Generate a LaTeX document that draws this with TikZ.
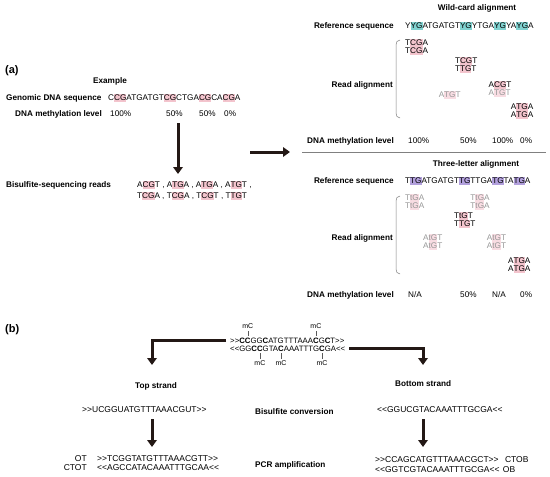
\documentclass[tikz,border=0pt]{standalone}
\usepackage{fontspec}
\setmainfont{Liberation Sans}
\usetikzlibrary{arrows.meta}
\definecolor{pinkhl}{RGB}{243,196,205}
\definecolor{pinklt}{RGB}{248,220,226}
\definecolor{cyanhl}{RGB}{128,210,208}
\definecolor{purphl}{RGB}{178,160,220}
\definecolor{graytx}{RGB}{150,150,150}
\definecolor{arrowc}{RGB}{35,24,21}
\definecolor{graytk}{RGB}{90,90,90}
\newcommand\hlc[2]{{\setlength\fboxsep{0pt}\colorbox{#1}{\rule[-1.5pt]{0pt}{8pt}#2}}}
\newcommand\RR{>\kern0pt>}
\newcommand\LL{<\kern0pt<}
\newcommand\mcU[1]{\setbox0\hbox{\textbf{#1}}\rlap{\hbox to\wd0{\hss\smash{\color{graytk}\rule[7pt]{0.5pt}{5.5pt}}\hss}}\rlap{\hbox to\wd0{\hss\smash{\raisebox{15pt}{\fontsize{7}{7}\selectfont mC}}\hss}}\box0}
\newcommand\mcD[1]{\setbox0\hbox{\textbf{#1}}\rlap{\hbox to\wd0{\hss\smash{\color{graytk}\rule[-7.5pt]{0.5pt}{5.5pt}}\hss}}\rlap{\hbox to\wd0{\hss\smash{\raisebox{-14pt}{\fontsize{7}{7}\selectfont mC}}\hss}}\box0}
\begin{document}
\begin{tikzpicture}[x=1pt,y=-1pt,
  lab/.style={font=\fontsize{8.2}{9}\selectfont\bfseries, inner sep=0pt},
  txt/.style={font=\fontsize{8.2}{9}\selectfont, inner sep=0pt},
  btxt/.style={font=\fontsize{8.5}{9}\selectfont, inner sep=0pt},
  rd/.style={font=\fontsize{8.2}{8}\selectfont, inner sep=0pt, align=left, anchor=north west},
  strand/.style={font=\fontsize{7.8}{8}\selectfont, inner sep=0pt, anchor=base west},
  big/.style={font=\fontsize{11}{12}\selectfont\bfseries, inner sep=0pt},
  bigarrow/.style={draw=arrowc, line width=3pt, -{Triangle[length=7pt,width=9.5pt]}},
  thinline/.style={draw=gray, line width=0.6pt},
  brk/.style={draw=gray, line width=0.5pt},
]
\useasboundingbox (0,0) rectangle (550,477);

% ---------------- (a) left ----------------
\node[big, anchor=base west] (alab) at (5,73) {(a)};
\node[lab, anchor=base] (example) at (110,83) {Example};
\node[lab, anchor=base west] (glab) at (6,100) {Genomic DNA sequence};
\node[txt, anchor=base west] (gseq) at (108,100) {C\hlc{pinkhl}{CG}ATGATGT\hlc{pinkhl}{CG}CTGA\hlc{pinkhl}{CG}CA\hlc{pinkhl}{CG}A};
\node[lab, anchor=base east] (mlab) at (102,116) {DNA methylation level};
\node[txt, anchor=base west] (m1) at (110,116) {100\%};
\node[txt, anchor=base west] (m2) at (166,116) {50\%};
\node[txt, anchor=base west] (m3) at (199,116) {50\%};
\node[txt, anchor=base west] (m4) at (224,116) {0\%};
\coordinate (va) at (178,123);
\coordinate (vb) at (178,174);
\draw[bigarrow] (va) -- (vb);
\node[lab, anchor=base west] (rlab) at (6,187) {Bisulfite-sequencing reads};
\node[font=\fontsize{8.2}{11}\selectfont, inner sep=0pt, align=left, anchor=north west] (reads) at (137,180.5)
 {A\hlc{pinkhl}{CG}T , A\hlc{pinkhl}{TG}A , A\hlc{pinkhl}{TG}A , A\hlc{pinkhl}{TG}T ,\\
  T\hlc{pinkhl}{CG}A , T\hlc{pinkhl}{CG}A , T\hlc{pinkhl}{CG}T , T\hlc{pinkhl}{TG}T};
\coordinate (ha) at (250,152);
\coordinate (hb) at (290,152);
\draw[bigarrow] (ha) -- (hb);
\coordinate (sa) at (302,152);
\coordinate (sb) at (546,152);
\draw[thinline] (sa) -- (sb);

% ---------------- wild-card ----------------
\node[lab, anchor=base] (wtitle) at (477,10) {Wild-card alignment};
\node[lab, anchor=base east] (wreflab) at (394,28) {Reference sequence};
\node[txt, anchor=base west] (wref) at (405,28) {Y\hlc{cyanhl}{YG}ATGATGT\hlc{cyanhl}{YG}YTGA\hlc{cyanhl}{YG}YA\hlc{cyanhl}{YG}A};
\node[rd] (w1) at (405,38.5) {T\hlc{pinkhl}{CG}A\\T\hlc{pinkhl}{CG}A};
\node[rd] (w2) at (405,56.5) {\phantom{YYGATGATG}T\hlc{pinkhl}{CG}T\\\phantom{YYGATGATG}T\hlc{pinkhl}{TG}T};
\node[rd] (w3) at (405,80.5) {\phantom{YYGATGATGTYGYTG}A\hlc{pinkhl}{CG}T\\\phantom{YYGATGATGTYGYTG}\textcolor{graytx}{A\hlc{pinklt}{TG}T}};
\node[rd] (w4) at (405,90.5) {\phantom{YYGATG}\textcolor{graytx}{A\hlc{pinklt}{TG}T}};
\node[rd] (w5) at (405,102.5) {\phantom{YYGATGATGTYGYTGAYGY}A\hlc{pinkhl}{TG}A\\\phantom{YYGATGATGTYGYTGAYGY}A\hlc{pinkhl}{TG}A};
\draw[brk] (400,40) .. controls (397,40.5) and (396,42) .. (396,45) -- (396,113) .. controls (396,116) and (397,117.5) .. (400,118);
\node[lab, anchor=base east] (wral) at (393,87) {Read alignment};
\node[lab, anchor=base east] (wmlab) at (394,143) {DNA methylation level};
\node[txt, anchor=base west] (wm1) at (408,143) {100\%};
\node[txt, anchor=base west] (wm2) at (460,143) {50\%};
\node[txt, anchor=base west] (wm3) at (492,143) {100\%};
\node[txt, anchor=base west] (wm4) at (520,143) {0\%};

% ---------------- three-letter ----------------
\node[lab, anchor=base] (ttitle) at (476,166) {Three-letter alignment};
\node[lab, anchor=base east] (treflab) at (394,183) {Reference sequence};
\node[txt, anchor=base west] (tref) at (405,183) {T\hlc{purphl}{TG}ATGATGT\hlc{purphl}{TG}TTGA\hlc{purphl}{TG}TA\hlc{purphl}{TG}A};
\node[rd] (t1) at (405,193.5) {\textcolor{graytx}{T\hlc{pinklt}{tG}A}\\\textcolor{graytx}{T\hlc{pinklt}{tG}A}};
\node[rd] (t2) at (405,193.5) {\phantom{TTGATGATGTTG}\textcolor{graytx}{T\hlc{pinklt}{tG}A}\\\phantom{TTGATGATGTTG}\textcolor{graytx}{T\hlc{pinklt}{tG}A}};
\node[rd] (t3) at (405,211.5) {\phantom{TTGATGATG}T\hlc{pinkhl}{tG}T\\\phantom{TTGATGATG}T\hlc{pinkhl}{TG}T};
\node[rd] (t4) at (423,233.5) {\textcolor{graytx}{A\hlc{pinklt}{tG}T}\\\textcolor{graytx}{A\hlc{pinklt}{tG}T}};
\node[rd] (t5) at (405,233.5) {\phantom{TTGATGATGTTGTTG}\textcolor{graytx}{A\hlc{pinklt}{tG}T}\\\phantom{TTGATGATGTTGTTG}\textcolor{graytx}{A\hlc{pinklt}{tG}T}};
\node[rd] (t6) at (405,256.5) {\phantom{TTGATGATGTTGTTGATGT}A\hlc{pinkhl}{TG}A\\\phantom{TTGATGATGTTGTTGATGT}A\hlc{pinkhl}{TG}A};
\draw[brk] (400,196) .. controls (397,196.5) and (396,198) .. (396,201) -- (396,269) .. controls (396,272) and (397,273.5) .. (400,274);
\node[lab, anchor=base east] (tral) at (393,240) {Read alignment};
\node[lab, anchor=base east] (tmlab) at (394,297) {DNA methylation level};
\node[txt, anchor=base west] (tm1) at (408,297) {N/A};
\node[txt, anchor=base west] (tm2) at (460,297) {50\%};
\node[txt, anchor=base west] (tm3) at (492,297) {N/A};
\node[txt, anchor=base west] (tm4) at (520,297) {0\%};

% ---------------- (b) ----------------
\node[big, anchor=base west] (blab) at (5,332) {(b)};
\node[strand] (ts) at (230,343) {\RR\textbf{C}\mcU{C}GG\textbf{C}ATGTTTAAA\mcU{C}G\textbf{C}T\RR};
\node[strand] (bs) at (230,351) {\LL GG\textbf{C}\mcD{C}GTA\mcD{C}AAATTTG\mcD{C}GA\LL};
\coordinate (la) at (152,365);
\coordinate (ra) at (423,365);
\draw[bigarrow] ([xshift=-4pt]ts.west) -| (la);
\draw[bigarrow] ([xshift=4pt]bs.east) -| (ra);
\node[lab, anchor=base west] (tsl) at (135,388) {Top strand};
\node[lab, anchor=base west] (bsl) at (395,386) {Bottom strand};
\node[btxt, anchor=base west] (tconv) at (82,412) {\RR UCGGUATGTTTAAACGUT\RR};
\node[btxt, anchor=base west] (bconv) at (377,412) {\LL GGUCGTACAAATTTGCGA\LL};
\node[lab, anchor=base west] (bis) at (255,414) {Bisulfite conversion};
\coordinate (lt) at (152,419);
\coordinate (lb) at (152,447);
\coordinate (rt) at (423,419);
\coordinate (rb) at (423,447);
\draw[bigarrow] (lt) -- (lb);
\draw[bigarrow] (rt) -- (rb);
\node[lab, anchor=base west] (pcr) at (255,467) {PCR amplification};
\node[btxt, anchor=base east] (ot) at (87,461) {OT};
\node[btxt, anchor=base east] (ctot) at (87,470) {CTOT};
\node[btxt, anchor=base west] (otseq) at (97,461) {\RR TCGGTATGTTTAAACGTT\RR};
\node[btxt, anchor=base west] (ctotseq) at (97,470) {\LL AGCCATACAAATTTGCAA\LL};
\node[btxt, anchor=base west] (ctobseq) at (375,462) {\RR CCAGCATGTTTAAACGCT\RR};
\node[btxt, anchor=base west] (ctob) at ([xshift=6pt]ctobseq.base east) {CTOB};
\node[btxt, anchor=base west] (obseq) at (375,472) {\LL GGTCGTACAAATTTGCGA\LL};
\node[btxt, anchor=base west] (ob) at ([xshift=3pt]obseq.base east) {OB};
\end{tikzpicture}
\end{document}
